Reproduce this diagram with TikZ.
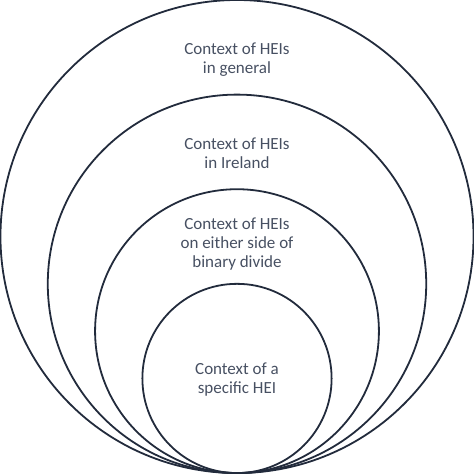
\documentclass[tikz,border=0pt]{standalone}
\usepackage{fontspec}
\setmainfont{Carlito}
\usepackage{tikz}
\definecolor{ringcol}{HTML}{222B3C}
\definecolor{textcol}{HTML}{475062}

\tikzset{
  ring/.style={draw=ringcol,line width=1.8bp},
  label/.style={text=textcol,align=center,font=\fontsize{17bp}{19bp}\selectfont}
}

\begin{document}
\begin{tikzpicture}[x=47.3bp,y=47.3bp]
\useasboundingbox (-5.01,-0.02) rectangle (5.01,10.0);

\foreach \r in {2,...,5}
{
\draw[ring] (0,\r) circle (\r);
}

\node[label] (general) at (0,8.74) {Context of HEIs\\in general};
\node[label] (ireland) at (0,6.77) {Context of HEIs\\in Ireland};
\node[label] (binary) at (0,4.84) {Context of HEIs\\on either side of\\binary divide};
\node[label] (specific) at (0,1.97) {Context of a\\specific HEI};
\end{tikzpicture}
\end{document}
